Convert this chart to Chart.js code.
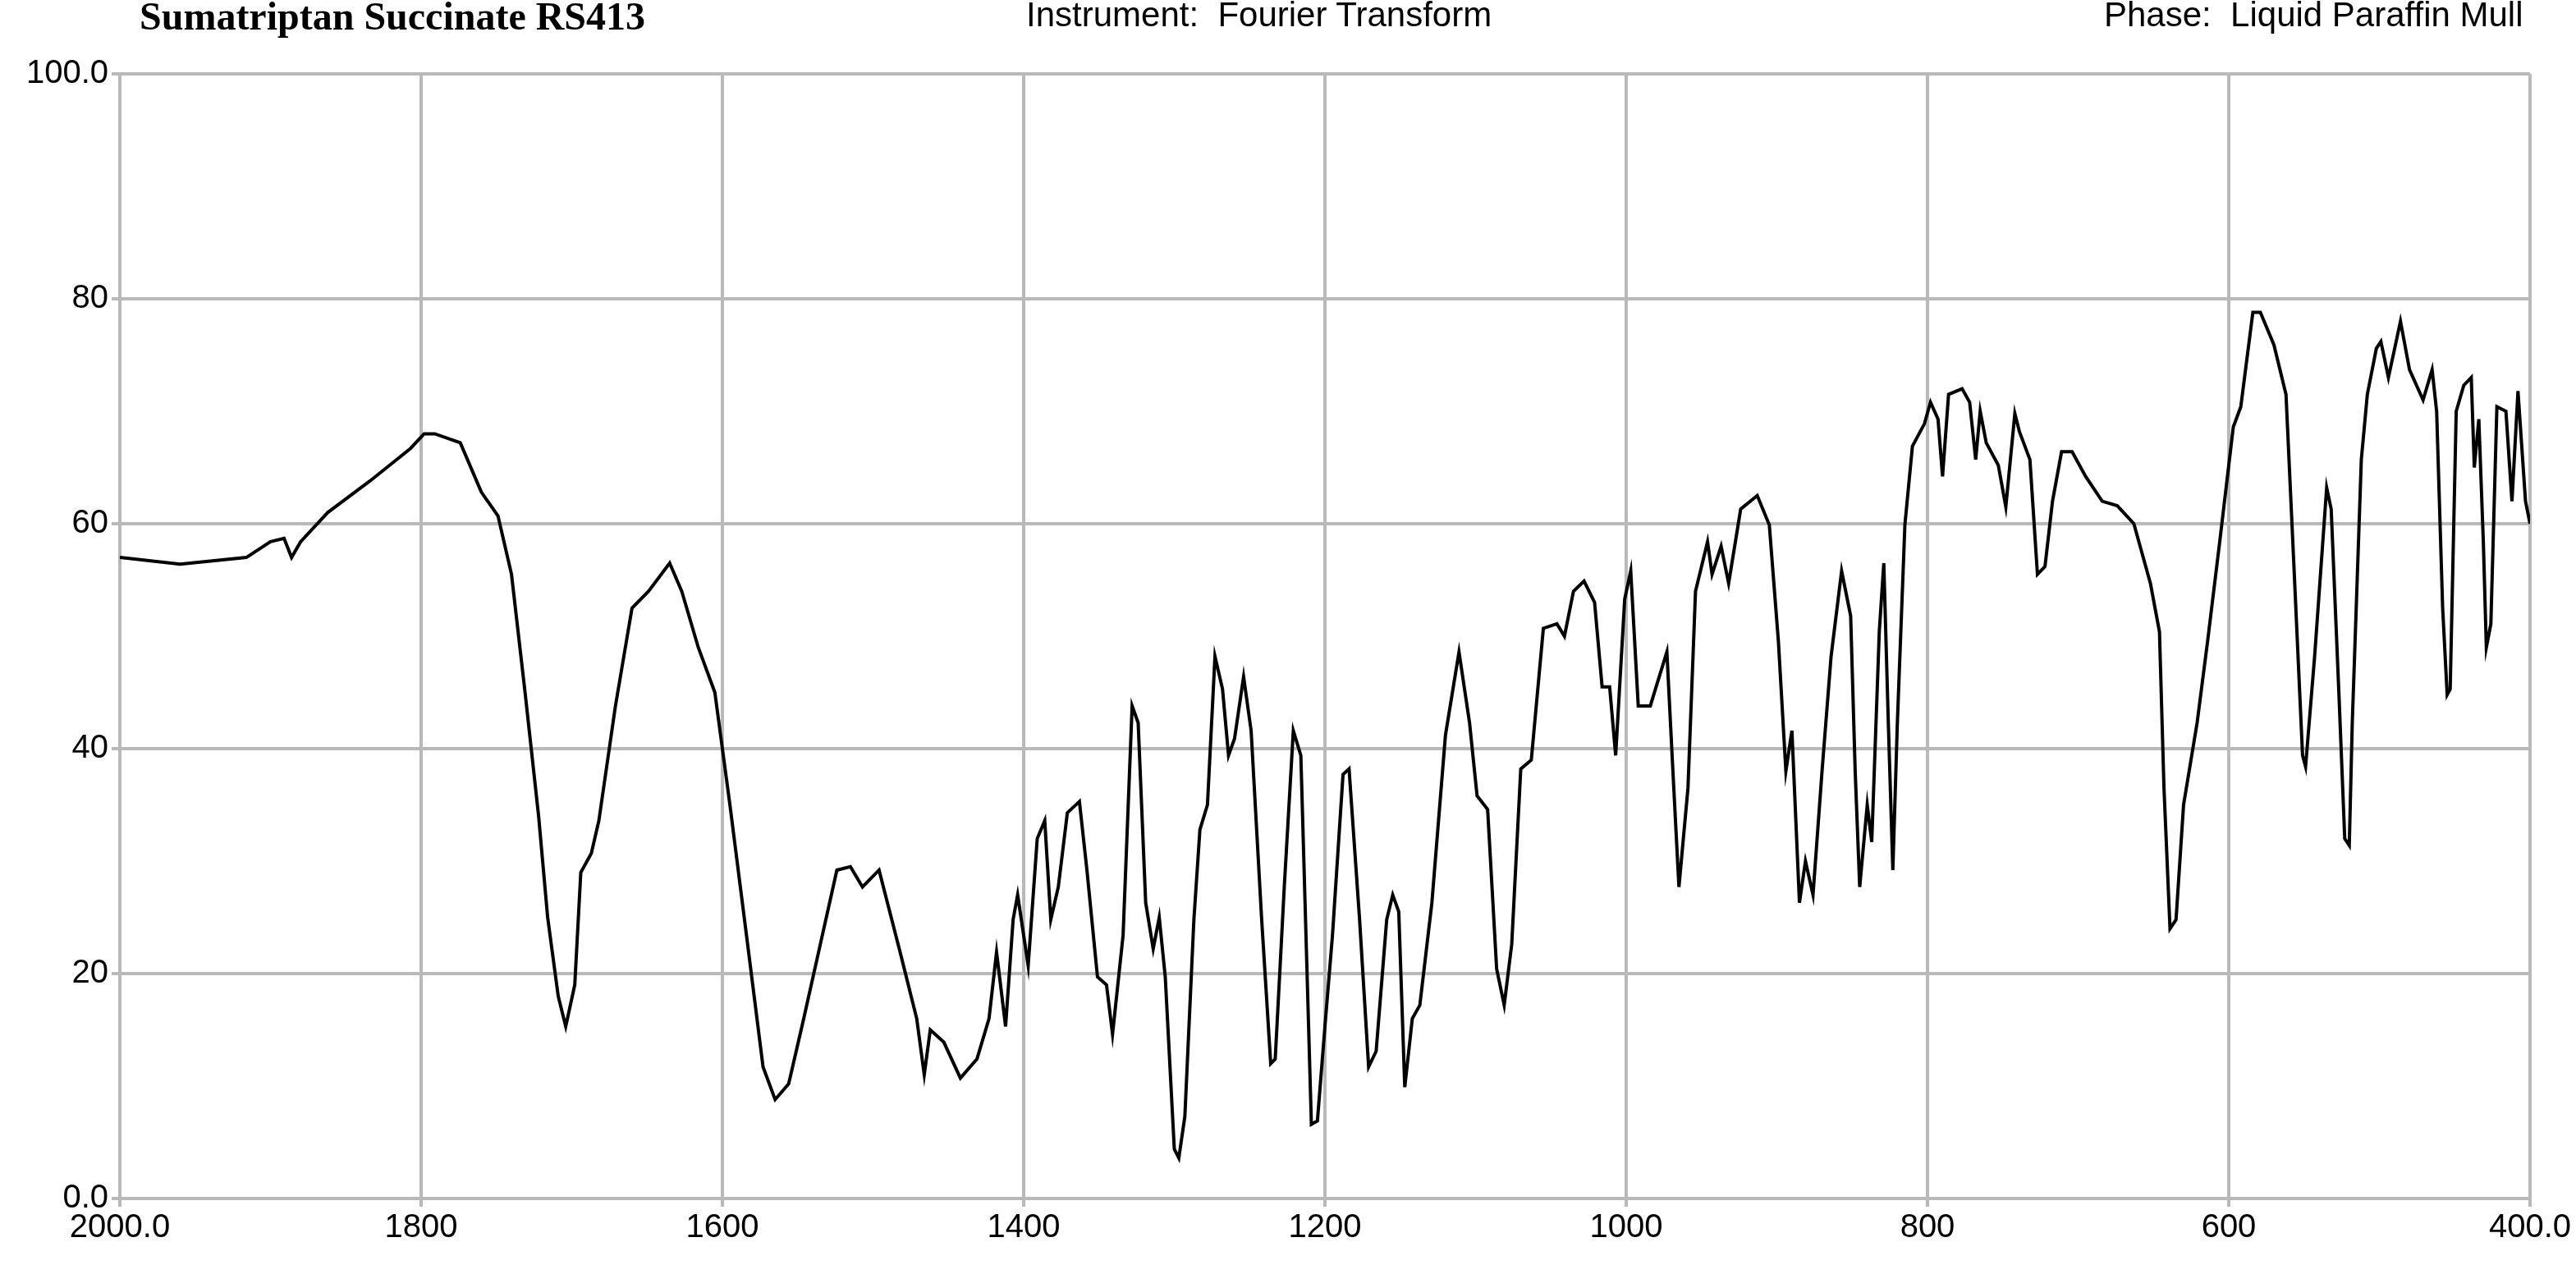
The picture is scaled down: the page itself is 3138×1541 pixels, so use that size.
<!DOCTYPE html>
<html>
<head>
<meta charset="utf-8">
<script src="https://cdn.jsdelivr.net/npm/chart.js@4/dist/chart.umd.min.js"></script>
<style>
html,body{margin:0;padding:0;background:#fff;}
#wrap{position:relative;width:3138px;height:1541px;}
.hd{position:absolute;top:-6px;font-size:42px;color:#000;white-space:nowrap;}
</style>
</head>
<body>
<div id="wrap">
<canvas id="grafico" width="3138" height="1541"></canvas>
<div class="hd" style="left:170px;font-family:'Liberation Serif',serif;font-weight:bold;font-size:48px;top:-8px;">Sumatriptan Succinate RS413</div>
<div class="hd" style="left:1250px;font-family:'Liberation Sans',Arial,sans-serif;">Instrument:&nbsp; Fourier Transform</div>
<div class="hd" style="left:2563px;font-family:'Liberation Sans',Arial,sans-serif;">Phase:&nbsp; Liquid Paraffin Mull</div>
</div>
<script>
// wavenumber (cm-1) and transmittance (%)
let wavenumbers = [2000,1960,1916,1900,1891,1886,1880,1862,1834,1807,1798,1791,1774,1760,1749,1740,1731,1722,1716,1709,1704,1698,1694,1687,1682,1671,1660,1649,1635,1627,1616,1605,1595,1584,1573,1565,1556,1546,1535,1524,1515,1507,1496,1482,1471,1466,1462,1453,1442,1431,1423,1418,1412,1407,1404,1397,1391,1386,1382,1377,1371,1363,1358,1351,1345,1341,1334,1328,1324,1319,1314,1310,1306,1300,1297,1293,1287,1283,1278,1273,1268,1264,1260,1254,1249,1242,1236,1233,1227,1221,1216,1211,1209,1205,1200,1195,1188,1184,1177,1171,1166,1159,1155,1151,1147,1142,1137,1129,1120,1111,1104,1099,1092,1086,1081,1076,1070,1063,1055,1046,1041,1035,1028,1021,1016,1011,1007,1001,997,992,984,979,973,969,965,959,954,946,943,937,932,924,913,905,899,894,890,885,881,876,870,864,857,851,848,845,840,837,832,829,826,823,820,815,810,802,798,793,790,786,777,772,768,765,761,753,748,742,739,732,727,722,717,711,704,695,684,674,663,652,646,643,639,635,630,621,614,606,597,592,584,579,570,562,557,551,549,543,535,532,527,523,520,518,512,508,502,499,494,486,480,471,465,462,458,455,453,449,444,439,437,434,431,429,426,422,416,412,408,403,400];
let transmittance = [57,56.4,57,58.4,58.7,57,58.4,61,63.8,66.7,68,68,67.2,62.8,60.7,55.5,45,34,25,18,15.3,19,29,30.7,33.6,43.8,52.5,54,56.5,54,49,45,35,23.4,11.7,8.8,10.2,16,22.6,29.2,29.5,27.7,29.2,21.9,16,11,15,13.9,10.7,12.4,16,21.9,15.3,24.8,27,20.7,32,33.6,24.8,27.7,34.3,35.3,29.2,19.7,19,14.6,23.4,43.8,42.3,26.3,22.2,25,19.7,4.4,3.6,7.3,24.8,32.8,35,48.2,45.3,39.4,40.9,46.4,41.6,24.8,12,12.4,27.7,41.6,39.4,16,6.6,6.9,15.3,23.4,37.7,38.2,24.8,11.7,13.1,24.8,27,25.5,9.9,16,17.2,26.3,41.2,48.6,42.3,35.8,34.6,20.4,17.2,22.6,38.2,39,50.7,51.1,50,54,54.9,53,45.5,45.5,39.4,53.3,55.8,43.8,43.8,46,48.6,38,27.7,36.5,54,58.4,55.5,58,54.7,61.3,62.5,59.9,49.6,38,41.6,26.3,30,27,38,48.2,55.8,51.8,38,27.7,35,31.7,50.4,56.5,42.3,29.2,42.3,59.9,66.9,68.9,70.8,69.3,64.2,71.5,72,70.8,65.7,70,67.2,65.2,61.5,69.8,68.2,65.7,55.5,56.2,62,66.4,66.4,64.2,62,61.6,60,54.7,50.4,36.5,24,24.8,35,42.3,49.6,58.4,68.6,70.4,78.8,78.8,75.9,71.5,57,39.4,38.4,48.2,63.2,61.3,45.3,32,31.4,42.3,65.7,71.5,75.6,76.2,73,78,73.7,71,73.7,70,52.5,44.8,45.3,70,72.3,73,65,69.3,58.4,49,51.1,70.4,70,62,71.8,62,60];

let xTicks = [2000,1800,1600,1400,1200,1000,800,600,400];
let yTicks = [0,20,40,60,80,100];

let puntos = wavenumbers.map((w,i)=>({x:w, y:transmittance[i]}));
let grid = "#b9b9b9";
let fuente = {family:"'Liberation Sans', Arial, sans-serif", size:40};

Chart.defaults.color = "#000";

new Chart(document.getElementById("grafico").getContext("2d"), {
type: "line",
data: {
datasets: [{
data: puntos,
borderColor: "#000",
borderWidth: 4,
pointRadius: 0,
tension: 0,
fill: false
}]
},
options: {
responsive: false,
animation: false,
devicePixelRatio: 1,
layout: {padding: {top: 90, right: 56, left: 0, bottom: 0}},
plugins: {legend: {display: false}, tooltip: {enabled: false}},
scales: {
x: {
type: "linear",
reverse: true,
min: 400,
max: 2000,
afterBuildTicks: s => { s.ticks = xTicks.map(v=>({value:v})); },
afterFit: s => { s.height = 81; },
ticks: {
font: fuente,
maxRotation: 0,
padding: 2,
callback: v => (v===2000||v===400) ? v.toFixed(1) : String(v)
},
grid: {color: grid, lineWidth: 4, tickLength: 10},
border: {color: grid, width: 4}
},
y: {
min: 0,
max: 100,
afterBuildTicks: s => { s.ticks = yTicks.map(v=>({value:v})); },
afterFit: s => { s.width = 146; },
ticks: {
font: fuente,
padding: 4,
callback: v => (v===0||v===100) ? v.toFixed(1) : String(v)
},
grid: {color: grid, lineWidth: 4, tickLength: 10},
border: {color: grid, width: 4}
}
}
}
});
</script>
</body>
</html>
